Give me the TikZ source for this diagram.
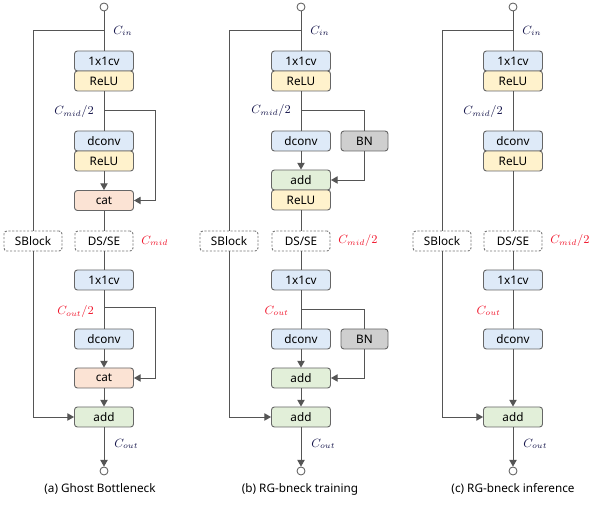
\documentclass[tikz,border=0pt]{standalone}
\usepackage{fontspec}
\setmainfont{Noto Sans}
\usetikzlibrary{arrows.meta}
\definecolor{cblue}{HTML}{DEEAF8}
\definecolor{cyel}{HTML}{FFF2CC}
\definecolor{cpeach}{HTML}{FBE3D4}
\definecolor{cgreen}{HTML}{E2EFD9}
\definecolor{cgray}{HTML}{CFCFCF}
\definecolor{cline}{HTML}{555555}
\definecolor{cnavy}{HTML}{14144A}
\definecolor{cred}{HTML}{F0142A}
\tikzset{
  box/.style={draw=cline!90, line width=0.7pt, rounded corners=2.2pt, minimum width=44.25pt, minimum height=15pt, inner sep=0pt, font=\fontsize{8.8}{10}\selectfont},
  bl/.style={box, fill=cblue},
  ye/.style={box, fill=cyel},
  pe/.style={box, fill=cpeach},
  gr/.style={box, fill=cgreen},
  bn/.style={box, fill=cgray, minimum width=35.25pt},
  dbox/.style={box, fill=white, draw=cline!80, dash pattern=on 1.6pt off 1.2pt, minimum width=43.5pt},
  io/.style={circle, draw=cline, line width=0.6pt, fill=white, minimum size=6pt, inner sep=0pt},
  ln/.style={draw=cline, line width=0.7pt},
  ar/.style={ln, -{Triangle[width=5.5pt,length=5pt]}},
  lab/.style={text=cnavy, inner sep=0pt, font=\fontsize{9}{10}\selectfont},
  rlab/.style={text=cred, inner sep=0pt, font=\fontsize{9}{10}\selectfont},
  captext/.style={font=\fontsize{8.8}{10}\selectfont, inner sep=0pt}
}
\begin{document}
\begin{tikzpicture}[x=0.75pt,y=-0.75pt]
\useasboundingbox (0,0) rectangle (597,509);
% ---------------- (a)
\node[io] (ain) at (104,7) {};
\node[bl] (a1) at (104,61) {1x1cv};
\node[ye] (a2) at (104,81) {ReLU};
\node[bl] (a3) at (104,141) {dconv};
\node[ye] (a4) at (104,161) {ReLU};
\node[pe] (a5) at (104,200.5) {cat};
\node[dbox] (as) at (33,241) {SBlock};
\node[dbox] (a6) at (104,241) {DS/SE};
\node[bl] (a7) at (104,280) {1x1cv};
\node[bl] (a8) at (104,339) {dconv};
\node[pe] (a9) at (104,378) {cat};
\node[gr] (a10) at (104,417) {add};
\node[io] (aout) at (104,471) {};
\coordinate (ab1) at (104,30);
\coordinate (ab2) at (104,110);
\coordinate (ab3) at (104,307);
\draw[ln] (ain) -- (a1);
\draw[ln] (ab1) -| (as.north);
\draw[ar] (as.south) |- (a10.west);
\draw[ln] (a2) -- (a3);
\draw[ar] (ab2) -| (155,200.5) -- (a5.east);
\draw[ar] (a4) -- (a5);
\draw[ln] (a5) -- (a6);
\draw[ln] (a6) -- (a7);
\draw[ln] (a7) -- (a8);
\draw[ar] (ab3) -| (155,378) -- (a9.east);
\draw[ar] (a8) -- (a9);
\draw[ar] (a9) -- (a10);
\draw[ar] (a10) -- (aout);
\node[lab, anchor=west] (la1) at (113,31) {$C_{in}$};
\node[lab, anchor=east] (la2) at (94,112) {$C_{mid}/2$};
\node[rlab, anchor=west] (la3) at (141,241) {$C_{mid}$};
\node[rlab, anchor=east] (la4) at (94,312) {$C_{out}/2$};
\node[lab, anchor=west] (la5) at (114,444) {$C_{out}$};
\node[captext] (capa) at (100,489) {(a) Ghost Bottleneck};
% ---------------- (b)
\node[io] (bin) at (301,7) {};
\node[bl] (b1) at (301,61) {1x1cv};
\node[ye] (b2) at (301,81) {ReLU};
\node[bl] (b3) at (301,141) {dconv};
\node[bn] (bbn) at (364.5,141) {BN};
\node[gr] (b4) at (301,180) {add};
\node[ye] (b5) at (301,200) {ReLU};
\node[dbox] (bs) at (229,241) {SBlock};
\node[dbox] (b6) at (301,241) {DS/SE};
\node[bl] (b7) at (301,280) {1x1cv};
\node[bl] (b8) at (301,339) {dconv};
\node[bn] (bbn2) at (364.5,339) {BN};
\node[gr] (b9) at (301,378) {add};
\node[gr] (b10) at (301,417) {add};
\node[io] (bout) at (301,471) {};
\coordinate (bb1) at (301,30);
\coordinate (bb2) at (301,110);
\coordinate (bb3) at (301,309);
\draw[ln] (bin) -- (b1);
\draw[ln] (bb1) -| (bs.north);
\draw[ar] (bs.south) |- (b10.west);
\draw[ln] (b2) -- (b3);
\draw[ln] (bb2) -| (bbn.north);
\draw[ar] (bbn.south) |- (b4.east);
\draw[ar] (b3) -- (b4);
\draw[ln] (b5) -- (b6);
\draw[ln] (b6) -- (b7);
\draw[ln] (b7) -- (b8);
\draw[ln] (bb3) -| (bbn2.north);
\draw[ar] (bbn2.south) |- (b9.east);
\draw[ar] (b8) -- (b9);
\draw[ar] (b9) -- (b10);
\draw[ar] (b10) -- (bout);
\node[lab, anchor=west] (lb1) at (310,31) {$C_{in}$};
\node[lab, anchor=east] (lb2) at (291,111) {$C_{mid}/2$};
\node[rlab, anchor=west] (lb3) at (338,241) {$C_{mid}/2$};
\node[rlab, anchor=east] (lb4) at (289,311) {$C_{out}$};
\node[lab, anchor=west] (lb5) at (311,444) {$C_{out}$};
\node[captext] (capb) at (300,489) {(b) RG-bneck training};
% ---------------- (c)
\node[io] (cin) at (513,7) {};
\node[bl] (c1) at (513,61) {1x1cv};
\node[ye] (c2) at (513,81) {ReLU};
\node[bl] (c3) at (513,141) {dconv};
\node[ye] (c4) at (513,161) {ReLU};
\node[dbox] (cs) at (442,241) {SBlock};
\node[dbox] (c6) at (513,241) {DS/SE};
\node[bl] (c7) at (513,280) {1x1cv};
\node[bl] (c8) at (513,339) {dconv};
\node[gr] (c10) at (513,417) {add};
\node[io] (cout) at (513,471) {};
\coordinate (cb1) at (513,30);
\draw[ln] (cin) -- (c1);
\draw[ln] (cb1) -| (cs.north);
\draw[ar] (cs.south) |- (c10.west);
\draw[ln] (c2) -- (c3);
\draw[ln] (c4) -- (c6);
\draw[ln] (c6) -- (c7);
\draw[ln] (c7) -- (c8);
\draw[ar] (c8) -- (c10);
\draw[ar] (c10) -- (cout);
\node[lab, anchor=west] (lc1) at (522,31) {$C_{in}$};
\node[lab, anchor=east] (lc2) at (503,112) {$C_{mid}/2$};
\node[rlab, anchor=west] (lc3) at (550,241) {$C_{mid}/2$};
\node[rlab, anchor=east] (lc4) at (501,311) {$C_{out}$};
\node[lab, anchor=west] (lc5) at (523,444) {$C_{out}$};
\node[captext] (capc) at (513,489) {(c) RG-bneck inference};
\end{tikzpicture}
\end{document}
